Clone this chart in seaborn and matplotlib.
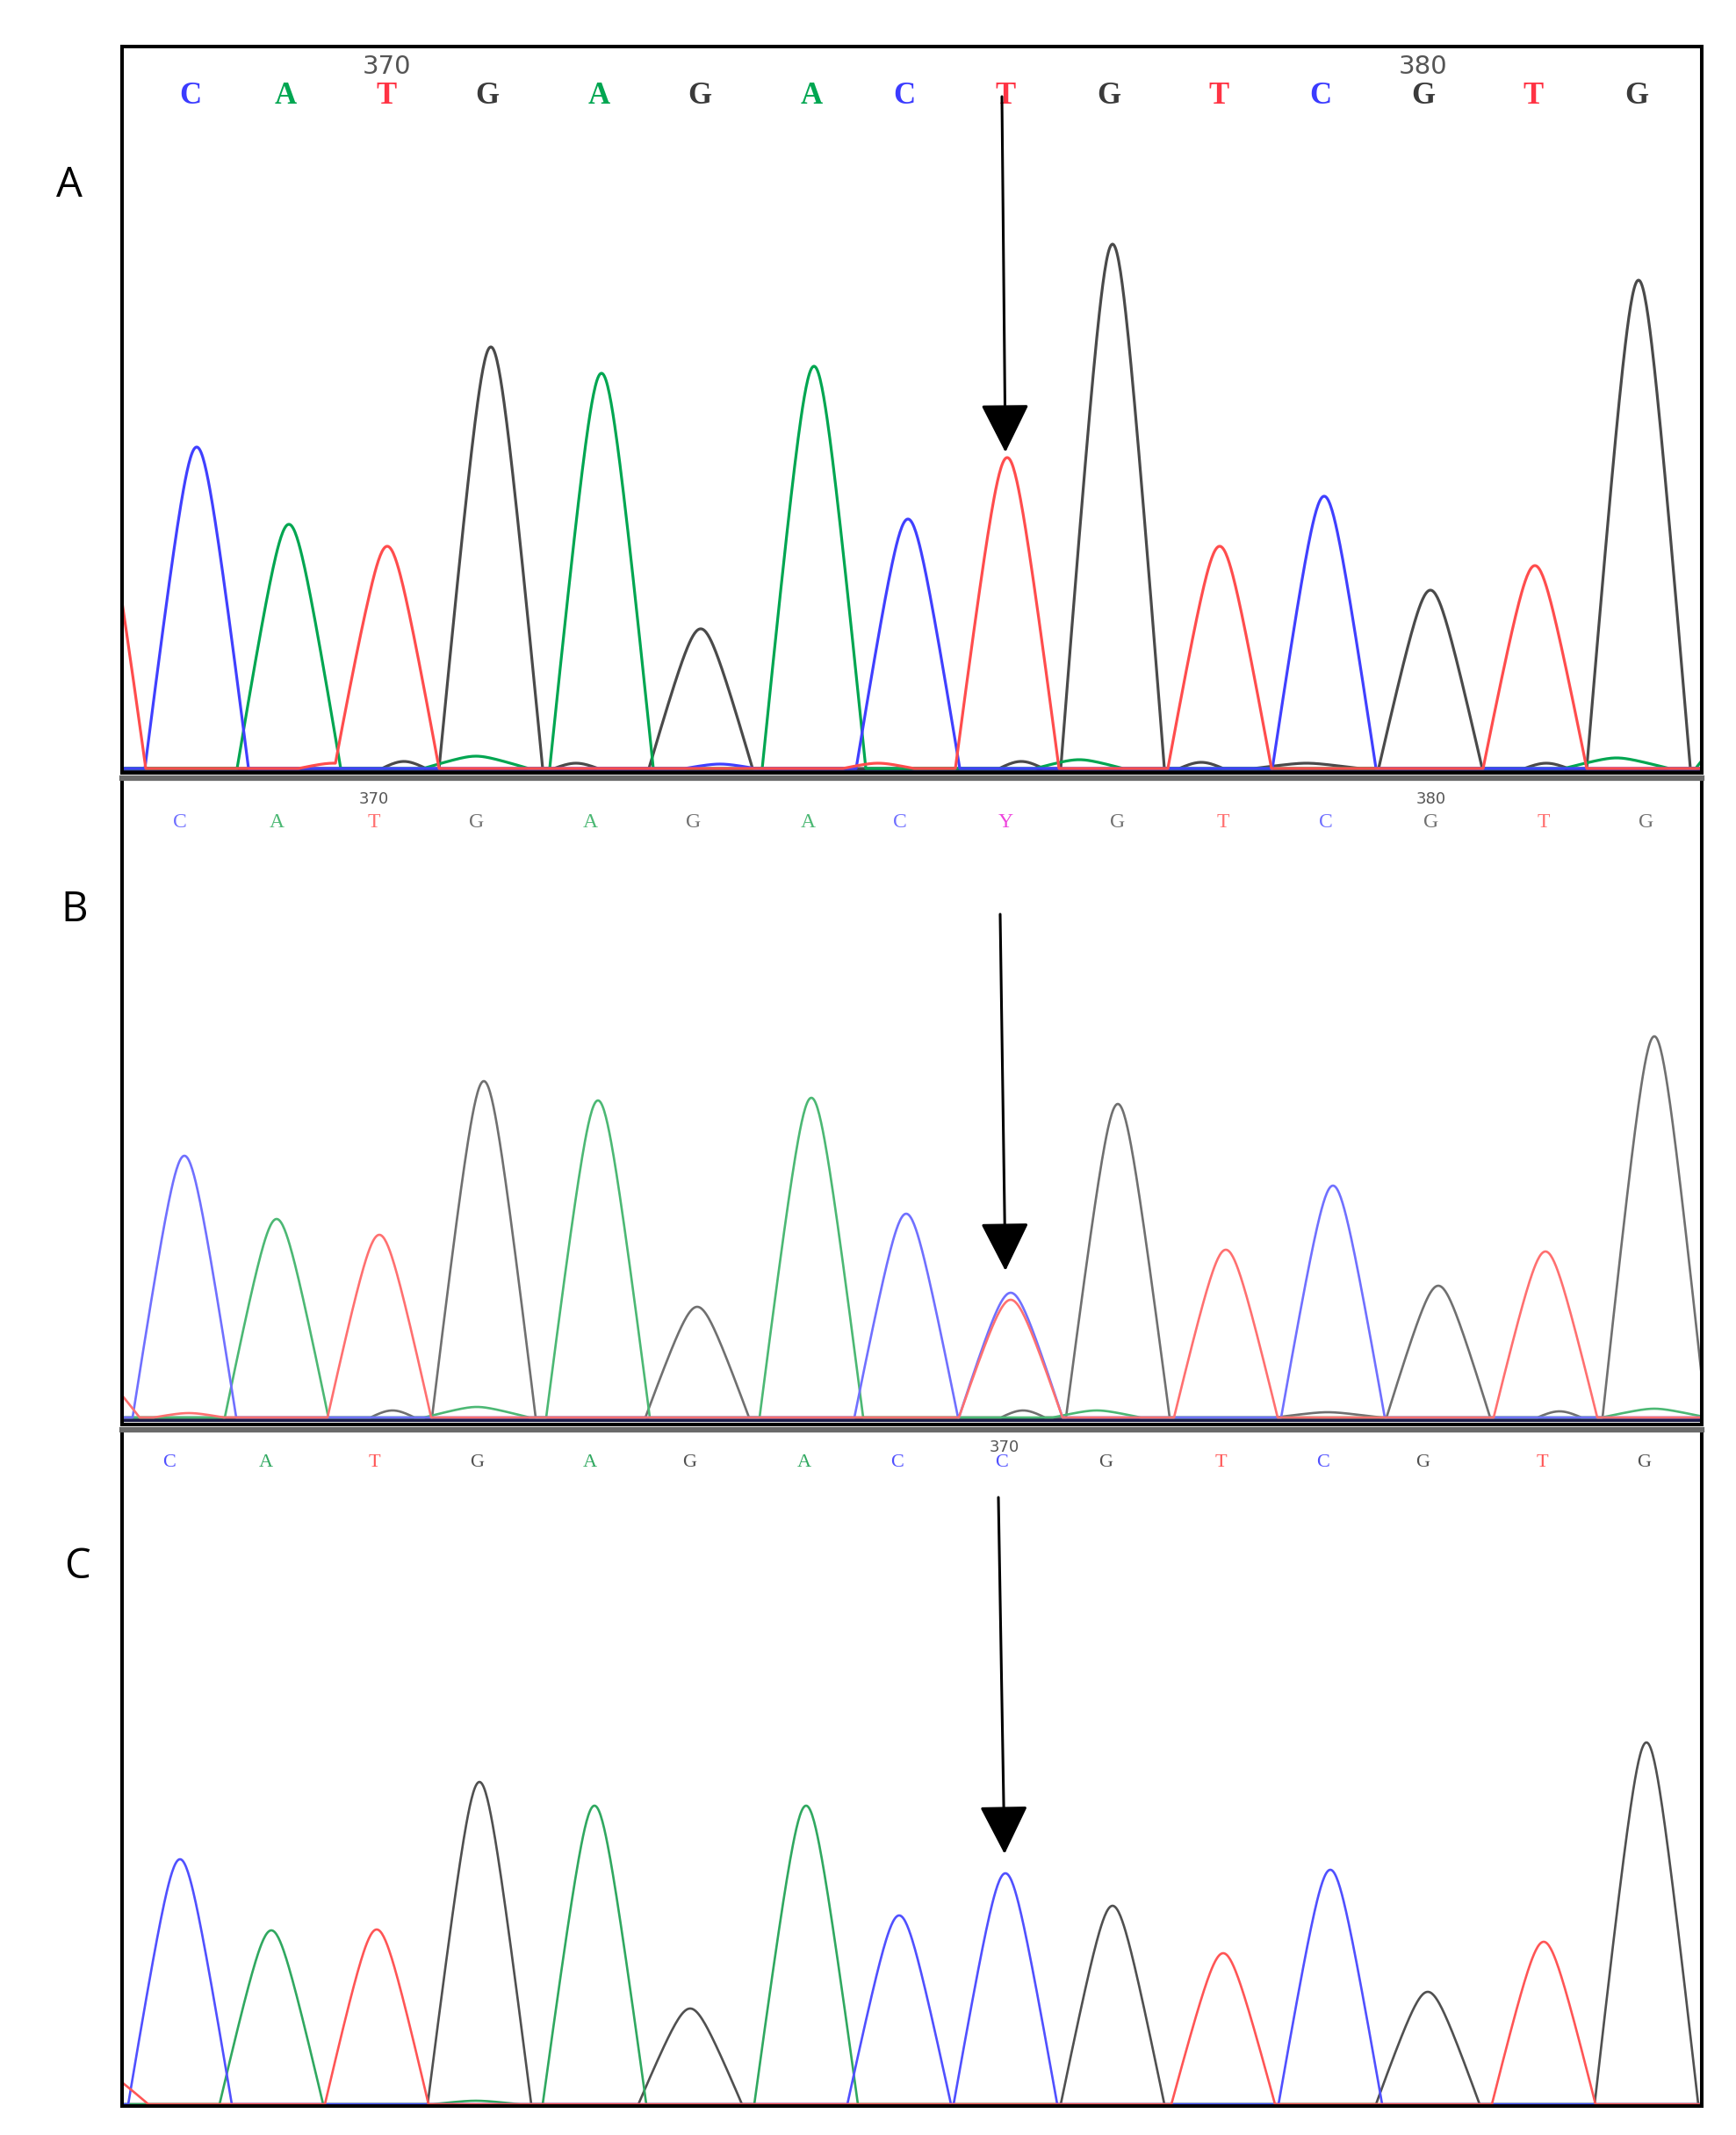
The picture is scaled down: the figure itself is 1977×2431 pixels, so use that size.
import numpy as np
import pandas as pd
import matplotlib.pyplot as plt
import seaborn as sns

# base calls printed above each trace
calls_a = list("CATGAGACTGTCGTG")
calls_b = list("CATGAGACYGTCGTG")
calls_c = list("CATGAGACCGTCGTG")

# main peaks: centre (scan position) and height
pos_a = [224, 329, 441, 559, 685, 798, 927, 1034, 1147, 1267, 1389, 1508, 1629, 1748, 1866]
hgt_a = [366, 278, 253, 480, 450, 159, 458, 284, 354, 597, 253, 310, 203, 231, 556]
pos_b = [210, 315, 432, 551, 681, 794, 924, 1032, 1151, 1273, 1396, 1518, 1638, 1760, 1884]
hgt_b = [298, 226, 208, 383, 361, 126, 364, 232, 142, 357, 191, 264, 150, 189, 434]
pos_c = [205, 309, 429, 546, 677, 786, 918, 1024, 1145, 1267, 1393, 1515, 1626, 1758, 1875]
hgt_c = [279, 198, 199, 367, 340, 109, 340, 215, 263, 226, 172, 267, 128, 185, 412]

# the heterozygous Y call in B holds a C and a T peak together
y_split_b = {"C": 142, "T": 134}

# peaks cut by the left edge and small background bumps: (channel, position, height, half width)
extra_a = [("T", 107, 337, 59), ("G", 460, 8, 25), ("G", 656, 6, 25), ("G", 1163, 8, 25),
           ("G", 1368, 7, 25), ("G", 1761, 6, 25), ("A", 542, 14, 60), ("A", 1229, 10, 50),
           ("A", 1841, 12, 60), ("G", 1488, 6, 60), ("T", 380, 6, 40), ("C", 820, 5, 40),
           ("T", 1000, 6, 40), ("A", 1990, 60, 59)]
extra_b = [("T", 100, 60, 59), ("G", 447, 8, 25), ("G", 1165, 8, 25), ("G", 1776, 7, 25),
           ("A", 543, 12, 60), ("A", 1249, 8, 50), ("A", 1884, 10, 60), ("G", 1512, 6, 60),
           ("T", 215, 5, 40)]
extra_c = [("T", 110, 40, 59), ("A", 542, 4, 50)]

# letter positions along the top
letx_a = [217, 325, 440, 555, 682, 797, 924, 1030, 1145, 1263, 1388, 1504, 1621, 1746, 1864]
letx_b = [205, 315, 426, 543, 672, 790, 920, 1025, 1145, 1273, 1393, 1510, 1630, 1758, 1875]
letx_c = [193, 303, 426, 543, 672, 785, 916, 1022, 1141, 1259, 1390, 1507, 1620, 1756, 1872]

# position numbers
nums_a = [(441, "370"), (1621, "380")]
nums_b = [(426, "370"), (1630, "380")]
nums_c = [(1144, "370")]

# arrows: start x, start y, tip x, tip y
arrow_a = (1141, 765, 1145, 360)
arrow_b = (1139, 573, 1145, 167)
arrow_c = (1137, 691, 1144, 285)

W, H = 1977, 2431
fig = plt.figure(figsize=(W / 100, H / 100), dpi=100)
sns.set_style("white")

letter_cols = {"C": "#3b3bff", "A": "#00a651", "T": "#ff3344", "G": "#3a3a3a", "Y": "#ee44dd"}


def peak_shape(x, mu, h, w, c=16.0):
    d = np.abs(x - mu)
    top = np.sqrt(w ** 2 + c ** 2)
    f = (top - np.sqrt(d ** 2 + c ** 2)) / (top - c)
    return h * np.clip(f, 0, None)


def build_traces(calls, pos, hgt, extra, split=None):
    x = np.arange(100, 1981, 1.0)
    ys = {b: np.zeros_like(x) for b in "ACGT"}
    for b, p, h in zip(calls, pos, hgt):
        if b == "Y":
            for ch, hh in split.items():
                ys[ch] += peak_shape(x, p, hh, 59)
        else:
            ys[b] += peak_shape(x, p, h, 59)
    for ch, p, h, w in extra:
        ys[ch] += peak_shape(x, p, h, w)
    rows = []
    for ch in "ACGT":
        rows.append(pd.DataFrame({"x": x, "y": ys[ch], "channel": ch}))
    return pd.concat(rows, ignore_index=True)


panels = [
    dict(calls=calls_a, pos=pos_a, hgt=hgt_a, extra=extra_a, letx=letx_a, nums=nums_a,
         arrow=arrow_a, top=53, bottom=880, base=875, let_y=766, num_y=799,
         pal={"C": "#4040ff", "A": "#00a651", "T": "#ff4d4d", "G": "#4a4a4a"},
         lw=2.3, let_size=25, let_weight="bold", num_size=21, noise=True, split=None),
    dict(calls=calls_b, pos=pos_b, hgt=hgt_b, extra=extra_b, letx=letx_b, nums=nums_b,
         arrow=arrow_b, top=886, bottom=1622, base=1614, let_y=677, num_y=704,
         pal={"C": "#7070ff", "A": "#4cb874", "T": "#ff7070", "G": "#707070"},
         lw=1.9, let_size=17, let_weight="normal", num_size=13, noise=True, split=y_split_b),
    dict(calls=calls_c, pos=pos_c, hgt=hgt_c, extra=extra_c, letx=letx_c, nums=nums_c,
         arrow=arrow_c, top=1628, bottom=2398, base=2396, let_y=730, num_y=748,
         pal={"C": "#5050ff", "A": "#30a860", "T": "#ff5555", "G": "#505050"},
         lw=1.9, let_size=16, let_weight="normal", num_size=13, noise=False, split=None),
]

for i, pn in enumerate(panels):
    ax = fig.add_axes([139 / W, 1 - pn["bottom"] / H, 1799 / W, (pn["bottom"] - pn["top"]) / H])
    df = build_traces(pn["calls"], pn["pos"], pn["hgt"], pn["extra"], pn["split"])
    sns.lineplot(data=df, x="x", y="y", hue="channel", hue_order=["G", "A", "C", "T"],
                 palette=pn["pal"], estimator=None, legend=False, lw=pn["lw"], ax=ax)
    ax.set_xlim(139, 1938)
    ax.set_ylim(pn["base"] - pn["bottom"], pn["base"] - pn["top"])
    ax.set_xticks([])
    ax.set_yticks([])
    ax.set_xlabel("")
    ax.set_ylabel("")
    for s in ax.spines.values():
        s.set_visible(True)
        s.set_color("black")
        s.set_linewidth(2.9)
    if i > 0:
        ax.spines["top"].set_color("#6a6a6a")
        ax.spines["top"].set_linewidth(4.5)
    if pn["noise"]:
        ax.axhline(-3, color="#1c1c48", lw=3.0, zorder=1)

    for b, lx in zip(pn["calls"], pn["letx"]):
        col = letter_cols[b]
        if i > 0 and b != "Y":
            col = pn["pal"][b]
        ax.text(lx, pn["let_y"], b, color=col, fontsize=pn["let_size"],
                fontweight=pn["let_weight"], family="Liberation Serif", ha="center", va="center")
    for nx, t in pn["nums"]:
        ax.text(nx, pn["num_y"], t, color="#555555", fontsize=pn["num_size"],
                family=["Liberation Sans Narrow", "DejaVu Sans"], ha="center", va="center")

    x0, y0, x1, y1 = pn["arrow"]
    ax.annotate("", xy=(x1, y1), xytext=(x0, y0),
                arrowprops=dict(arrowstyle="-|>,head_length=1.0,head_width=0.5",
                                mutation_scale=35, lw=2.2, color="black",
                                shrinkA=0, shrinkB=0))

# panel tags
for tag, tx, ty in [("A", 79, 211), ("B", 85, 1036), ("C", 88, 1784)]:
    fig.text(tx / W, 1 - ty / H, tag, fontsize=34, family="Open Sans",
             ha="center", va="center", color="black")

fig.savefig("out.png", dpi=100)
